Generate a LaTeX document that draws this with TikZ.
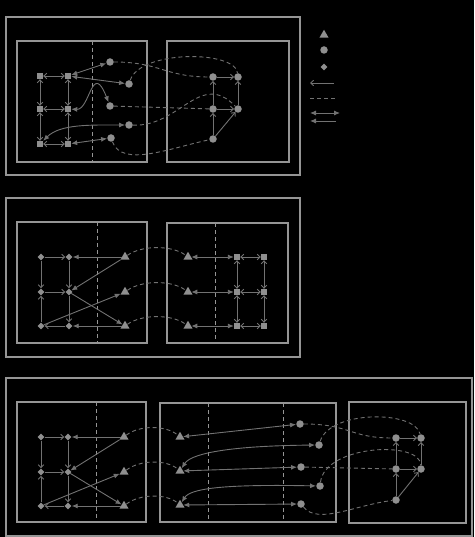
\documentclass[tikz,border=0pt]{standalone}
\usetikzlibrary{arrows.meta,shapes.geometric}
\definecolor{nodegray}{HTML}{8F8F8F}
\definecolor{edgegray}{HTML}{727272}
\definecolor{boxgray}{HTML}{959595}
\begin{document}
\begin{tikzpicture}[x=1pt,y=-1pt,
  >={Straight Barb[length=3pt,width=5.5pt]},
  sq/.style={rectangle,fill=nodegray,minimum size=6pt,inner sep=0pt},
  cir/.style={circle,fill=nodegray,minimum size=7.5pt,inner sep=0pt},
  tri/.style={regular polygon,regular polygon sides=3,fill=nodegray,minimum size=10.5pt,inner sep=0pt},
  dia/.style={diamond,fill=nodegray,minimum size=7pt,inner sep=0pt},
  panel/.style={draw=boxgray,line width=1.3pt},
  divider/.style={draw=boxgray,line width=0.9pt,dash pattern=on 4pt off 3pt},
  own/.style={draw=edgegray,line width=0.9pt,->},
  own2/.style={draw=edgegray,line width=0.9pt,<->},
  xlink/.style={draw=edgegray,line width=0.9pt,-{Latex[length=6pt,width=5pt]}},
  xlink2/.style={draw=edgegray,line width=0.9pt,{Latex[length=6pt,width=5pt]}-{Latex[length=6pt,width=5pt]}},
  mapline/.style={draw=edgegray,line width=0.9pt,dash pattern=on 4pt off 3pt}]

  \useasboundingbox (0,0) rectangle (474,537);
  \fill[black] (0,0) rectangle (474,537);

  % first panel
  \draw[panel] (6,17) rectangle (300,175);
  \draw[panel] (17,41) rectangle (147,162);
  \draw[panel] (167,41) rectangle (289,162);
  \draw[divider] (92,41) -- (92,162);

  \node[sq] (as11) at (40,76) {};
  \node[sq] (as12) at (68,76) {};
  \node[sq] (as21) at (40,109) {};
  \node[sq] (as22) at (68,109) {};
  \node[sq] (as31) at (40,144) {};
  \node[sq] (as32) at (68,144) {};
  \node[cir] (ac1) at (110,62) {};
  \node[cir] (ac2) at (129,84) {};
  \node[cir] (ac3) at (110,106) {};
  \node[cir] (ac4) at (129,125) {};
  \node[cir] (ac5) at (111,138) {};
  \node[cir] (ar11) at (213,77) {};
  \node[cir] (ar12) at (238,77) {};
  \node[cir] (ar21) at (213,109) {};
  \node[cir] (ar22) at (238,109) {};
  \node[cir] (ar31) at (213,139) {};

  \draw[own2] (as11) -- (as12);
  \draw[own2] (as21) -- (as22);
  \draw[own2] (as31) -- (as32);
  \draw[own2] (as11) -- (as21);
  \draw[own2] (as21) -- (as31);
  \draw[own2] (as12) -- (as22);
  \draw[own2] (as22) -- (as32);

  \draw[xlink2] (as12) -- (ac1); %% s12<->c1
  \draw[xlink2] (as12) -- (ac2); %% s12<->c2
  \draw[xlink2] (as22) .. controls (90,110) and (92,60) .. (ac3); %% s22<->c3
  \draw[xlink2] (as31) .. controls (60,124) and (90,125) .. (ac4); %% s31<->c4
  \draw[xlink2] (as32) -- (ac5); %% s32<->c5

  \draw[mapline] (ac1) .. controls (160,62) and (165,77) .. (ar11);
  \draw[mapline] (ac2) .. controls (140,50) and (235,50) .. (ar12);
  \draw[mapline] (ac3) -- (ar21);
  \draw[mapline] (ac4) .. controls (180,127) and (200,70) .. (ar22);
  \draw[mapline] (ac5) .. controls (122,168) and (170,148) .. (ar31);

  \draw[own] (ar31) -- (ar21);
  \draw[own] (ar21) -- (ar11);
  \draw[own] (ar11) -- (ar12);
  \draw[own] (ar21) -- (ar22);
  \draw[own] (ar22) -- (ar12);
  \draw[own] (ar31) -- (ar22);

  % legend
  \node[tri] (ltri) at (324,35) {};
  \node[cir] (lcir) at (324,50) {};
  \node[dia] (ldia) at (324,67) {};
  \coordinate (la1) at (334,83);
  \coordinate (la2) at (310,83);
  \coordinate (lb1) at (310,98);
  \coordinate (lb2) at (335,98);
  \coordinate (lc1) at (310,113);
  \coordinate (lc2) at (340,113);
  \coordinate (ld1) at (336,121);
  \coordinate (ld2) at (310,121);
  \draw[own] (la1) -- (la2);
  \draw[mapline] (lb1) -- (lb2);
  \draw[xlink2] (lc1) -- (lc2);
  \draw[xlink] (ld1) -- (ld2);

  % second panel
  \draw[panel] (6,198) rectangle (300,357);
  \draw[panel] (17,222) rectangle (147,343);
  \draw[panel] (167,223) rectangle (288,343);
  \draw[divider] (97,222) -- (97,343);
  \draw[divider] (215,223) -- (215,343);

  \node[dia] (bd11) at (41,257) {};
  \node[dia] (bd12) at (69,257) {};
  \node[dia] (bd21) at (41,292) {};
  \node[dia] (bd22) at (69,292) {};
  \node[dia] (bd31) at (41,326) {};
  \node[dia] (bd32) at (69,326) {};
  \node[tri] (bt1) at (125,257) {};
  \node[tri] (bt2) at (125,292) {};
  \node[tri] (bt3) at (125,326) {};
  \node[tri] (bu1) at (188,257) {};
  \node[tri] (bu2) at (188,292) {};
  \node[tri] (bu3) at (188,326) {};
  \node[sq] (bq11) at (237,257) {};
  \node[sq] (bq12) at (264,257) {};
  \node[sq] (bq21) at (237,292) {};
  \node[sq] (bq22) at (264,292) {};
  \node[sq] (bq31) at (237,326) {};
  \node[sq] (bq32) at (264,326) {};

  \draw[own] (bd11) -- (bd12);
  \draw[own] (bd11) -- (bd21);
  \draw[own] (bd12) -- (bd22);
  \draw[own] (bd21) -- (bd22);
  \draw[own] (bd31) -- (bd21);
  \draw[own] (bd22) -- (bd32);
  \draw[own] (bd32) -- (bd31);
  \draw[xlink] (bt1) -- (bd12); %% t1->d12
  \draw[xlink] (bt1) -- (bd22); %% t1->d22
  \draw[xlink] (bd22) -- (bt3); %% d22->t3
  \draw[xlink] (bd31) -- (bt2); %% d31->t2
  \draw[xlink] (bt3) -- (bd32); %% t3->d32

  \draw[mapline] (bt1) .. controls (142,245) and (172,245) .. (bu1);
  \draw[mapline] (bt2) .. controls (142,280) and (172,280) .. (bu2);
  \draw[mapline] (bt3) .. controls (142,314) and (172,314) .. (bu3);

  \draw[xlink2] (bu1) -- (bq11);
  \draw[xlink2] (bu2) -- (bq21);
  \draw[xlink2] (bu3) -- (bq31);
  \draw[own2] (bq11) -- (bq12);
  \draw[own2] (bq21) -- (bq22);
  \draw[own2] (bq31) -- (bq32);
  \draw[own2] (bq11) -- (bq21);
  \draw[own2] (bq21) -- (bq31);
  \draw[own2] (bq12) -- (bq22);
  \draw[own2] (bq22) -- (bq32);

  % third panel
  \draw[panel] (6,378) rectangle (472,536);
  \draw[panel] (17,402) rectangle (146,522);
  \draw[panel] (160,403) rectangle (336,522);
  \draw[panel] (349,402) rectangle (466,523);
  \draw[divider] (96,402) -- (96,522);
  \draw[divider] (208,403) -- (208,522);
  \draw[divider] (283,403) -- (283,522);

  \node[dia] (cd11) at (41,437) {};
  \node[dia] (cd12) at (68,437) {};
  \node[dia] (cd21) at (41,472) {};
  \node[dia] (cd22) at (68,472) {};
  \node[dia] (cd31) at (41,506) {};
  \node[dia] (cd32) at (68,506) {};
  \node[tri] (ct1) at (124,437) {};
  \node[tri] (ct2) at (124,472) {};
  \node[tri] (ct3) at (124,506) {};
  \node[tri] (cm1) at (180,437) {};
  \node[tri] (cm2) at (180,471) {};
  \node[tri] (cm3) at (180,505) {};
  \node[cir] (ce1) at (300,424) {};
  \node[cir] (ce2) at (319,445) {};
  \node[cir] (ce3) at (301,467) {};
  \node[cir] (ce4) at (320,486) {};
  \node[cir] (ce5) at (301,504) {};
  \node[cir] (cf11) at (396,438) {};
  \node[cir] (cf12) at (421,438) {};
  \node[cir] (cf21) at (396,469) {};
  \node[cir] (cf22) at (421,469) {};
  \node[cir] (cf31) at (396,500) {};

  \draw[own] (cd11) -- (cd12);
  \draw[own] (cd11) -- (cd21);
  \draw[own] (cd12) -- (cd22);
  \draw[own] (cd21) -- (cd22);
  \draw[own] (cd31) -- (cd21);
  \draw[own] (cd22) -- (cd32);
  \draw[own] (cd32) -- (cd31);
  \draw[xlink] (ct1) -- (cd12);
  \draw[xlink] (ct1) -- (cd22);
  \draw[xlink] (cd22) -- (ct3);
  \draw[xlink] (cd31) -- (ct2);
  \draw[xlink] (ct3) -- (cd32);

  \draw[mapline] (ct1) .. controls (139,425) and (166,425) .. (cm1);
  \draw[mapline] (ct2) .. controls (139,460) and (166,459) .. (cm2);
  \draw[mapline] (ct3) .. controls (139,494) and (166,493) .. (cm3);

  \draw[xlink2] (cm1) -- (ce1); %% m1<->e1
  \draw[xlink2] (cm2) .. controls (190,455) and (220,446) .. (ce2); %% m2<->e2
  \draw[xlink2] (cm2) -- (ce3); %% m2<->e3
  \draw[xlink2] (cm3) .. controls (190,489) and (220,484) .. (ce4); %% m3<->e4
  \draw[xlink2] (cm3) -- (ce5); %% m3<->e5

  \draw[mapline] (ce1) .. controls (350,424) and (350,438) .. (cf11);
  \draw[mapline] (ce2) .. controls (330,410) and (415,410) .. (cf12);
  \draw[mapline] (ce3) -- (cf21);
  \draw[mapline] (ce4) .. controls (325,445) and (420,440) .. (cf22);
  \draw[mapline] (ce5) .. controls (318,525) and (355,505) .. (cf31);

  \draw[own] (cf31) -- (cf21);
  \draw[own] (cf21) -- (cf11);
  \draw[own] (cf11) -- (cf12);
  \draw[own] (cf21) -- (cf22);
  \draw[own] (cf22) -- (cf12);
  \draw[own] (cf31) -- (cf22);
\end{tikzpicture}
\end{document}
